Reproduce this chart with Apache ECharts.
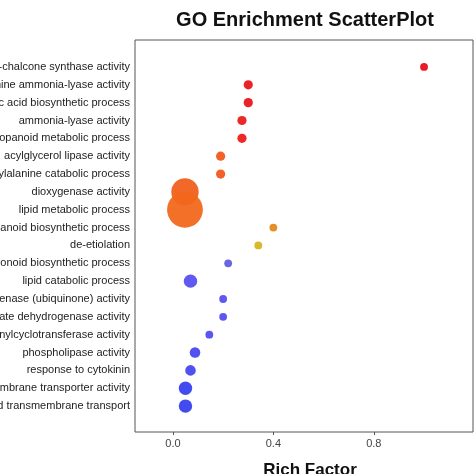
<!DOCTYPE html>
<html>
<head>
<meta charset="UTF-8">
<script src="https://cdn.jsdelivr.net/npm/echarts@6/dist/echarts.min.js"></script>
</head>
<body style="margin:0">
<div id="chart" style="width:474px;height:474px;"></div>
<script>
var terms = [
    'naringenin-chalcone synthase activity',
    'phenylalanine ammonia-lyase activity',
    'cinnamic acid biosynthetic process',
    'ammonia-lyase activity',
    'phenylpropanoid metabolic process',
    'acylglycerol lipase activity',
    'L-phenylalanine catabolic process',
    'dioxygenase activity',
    'lipid metabolic process',
    'phenylpropanoid biosynthetic process',
    'de-etiolation',
    'flavonoid biosynthetic process',
    'lipid catabolic process',
    'NADH dehydrogenase (ubiquinone) activity',
    'glucose-6-phosphate dehydrogenase activity',
    'adenylcyclotransferase activity',
    'phospholipase activity',
    'response to cytokinin',
    'amino acid transmembrane transporter activity',
    'amino acid transmembrane transport'
];
var richFactor = [1.0, 0.30, 0.30, 0.275, 0.275, 0.19, 0.19, 0.048, 0.048, 0.40, 0.34, 0.22, 0.07, 0.20, 0.20, 0.145, 0.088, 0.07, 0.05, 0.05];
var geneCount = [2, 3, 3, 3, 3, 3, 3, 16, 22, 2, 2, 2, 6, 2, 2, 2, 4, 4, 6, 6];
var qValue = [0.02, 0.03, 0.03, 0.04, 0.04, 0.12, 0.12, 0.13, 0.14, 0.32, 0.38, 0.7, 0.72, 0.74, 0.75, 0.78, 0.85, 0.86, 0.9, 0.9];

var data = terms.map(function (t, i) {
    return [richFactor[i], t, qValue[i], geneCount[i]];
});

var chart = echarts.init(document.getElementById('chart'));
chart.setOption({
    animation: false,
    title: {
        text: 'GO Enrichment ScatterPlot',
        left: 300, top: 5, textAlign: 'center',
        textStyle: {fontFamily: 'Liberation Sans', fontSize: 20, fontWeight: 'bold', color: '#111'}
    },
    grid: [
        {left: 135, right: 1, top: 58, height: 357, show: false, containLabel: false, outerBoundsMode: 'none'},
        {left: 135, right: 1, top: 40, bottom: 42, show: true, borderColor: '#555', borderWidth: 1,
            backgroundColor: 'transparent', containLabel: false, outerBoundsMode: 'none'}
    ],
    xAxis: [{
        gridIndex: 0, type: 'value', min: -0.151, max: 1.195,
        axisLine: {show: false}, axisTick: {show: false}, axisLabel: {show: false},
        splitLine: {show: false}
    }, {
        gridIndex: 1, type: 'value', min: -0.151, max: 1.195,
        name: 'Rich Factor', nameLocation: 'middle', nameGap: 30,
        nameTextStyle: {fontFamily: 'Liberation Sans', fontSize: 17, fontWeight: 'bold', color: '#111', padding: [0, 0, 0, 12]},
        axisLine: {show: false},
        axisTick: {show: true, customValues: [0, 0.4, 0.8], length: 3, lineStyle: {color: '#555'}},
        axisLabel: {customValues: [0, 0.4, 0.8], formatter: function (v) { return v.toFixed(1); },
            fontFamily: 'Liberation Sans', fontSize: 11, color: '#444', margin: 6},
        splitLine: {show: false}
    }],
    yAxis: [{
        gridIndex: 0, type: 'category', data: terms, inverse: true,
        axisLine: {show: false}, axisTick: {show: false},
        axisLabel: {fontFamily: 'Liberation Sans', fontSize: 11, color: '#222', margin: 5},
        splitLine: {show: false}
    }, {
        gridIndex: 1, type: 'value', show: false
    }],
    visualMap: {
        show: false, dimension: 2, min: 0, max: 1, seriesIndex: 0,
        inRange: {color: ['#e8001c', '#f26a1c', '#f07018', '#c8d820', '#a0e830', '#5a50f0', '#4848f0', '#1030e8']}
    },
    series: [{
        type: 'scatter', xAxisIndex: 0, yAxisIndex: 0,
        data: data,
        symbolSize: function (v) { return 5 + 1.4 * v[3]; },
        itemStyle: {opacity: 0.95}
    }]
});
</script>
</body>
</html>
